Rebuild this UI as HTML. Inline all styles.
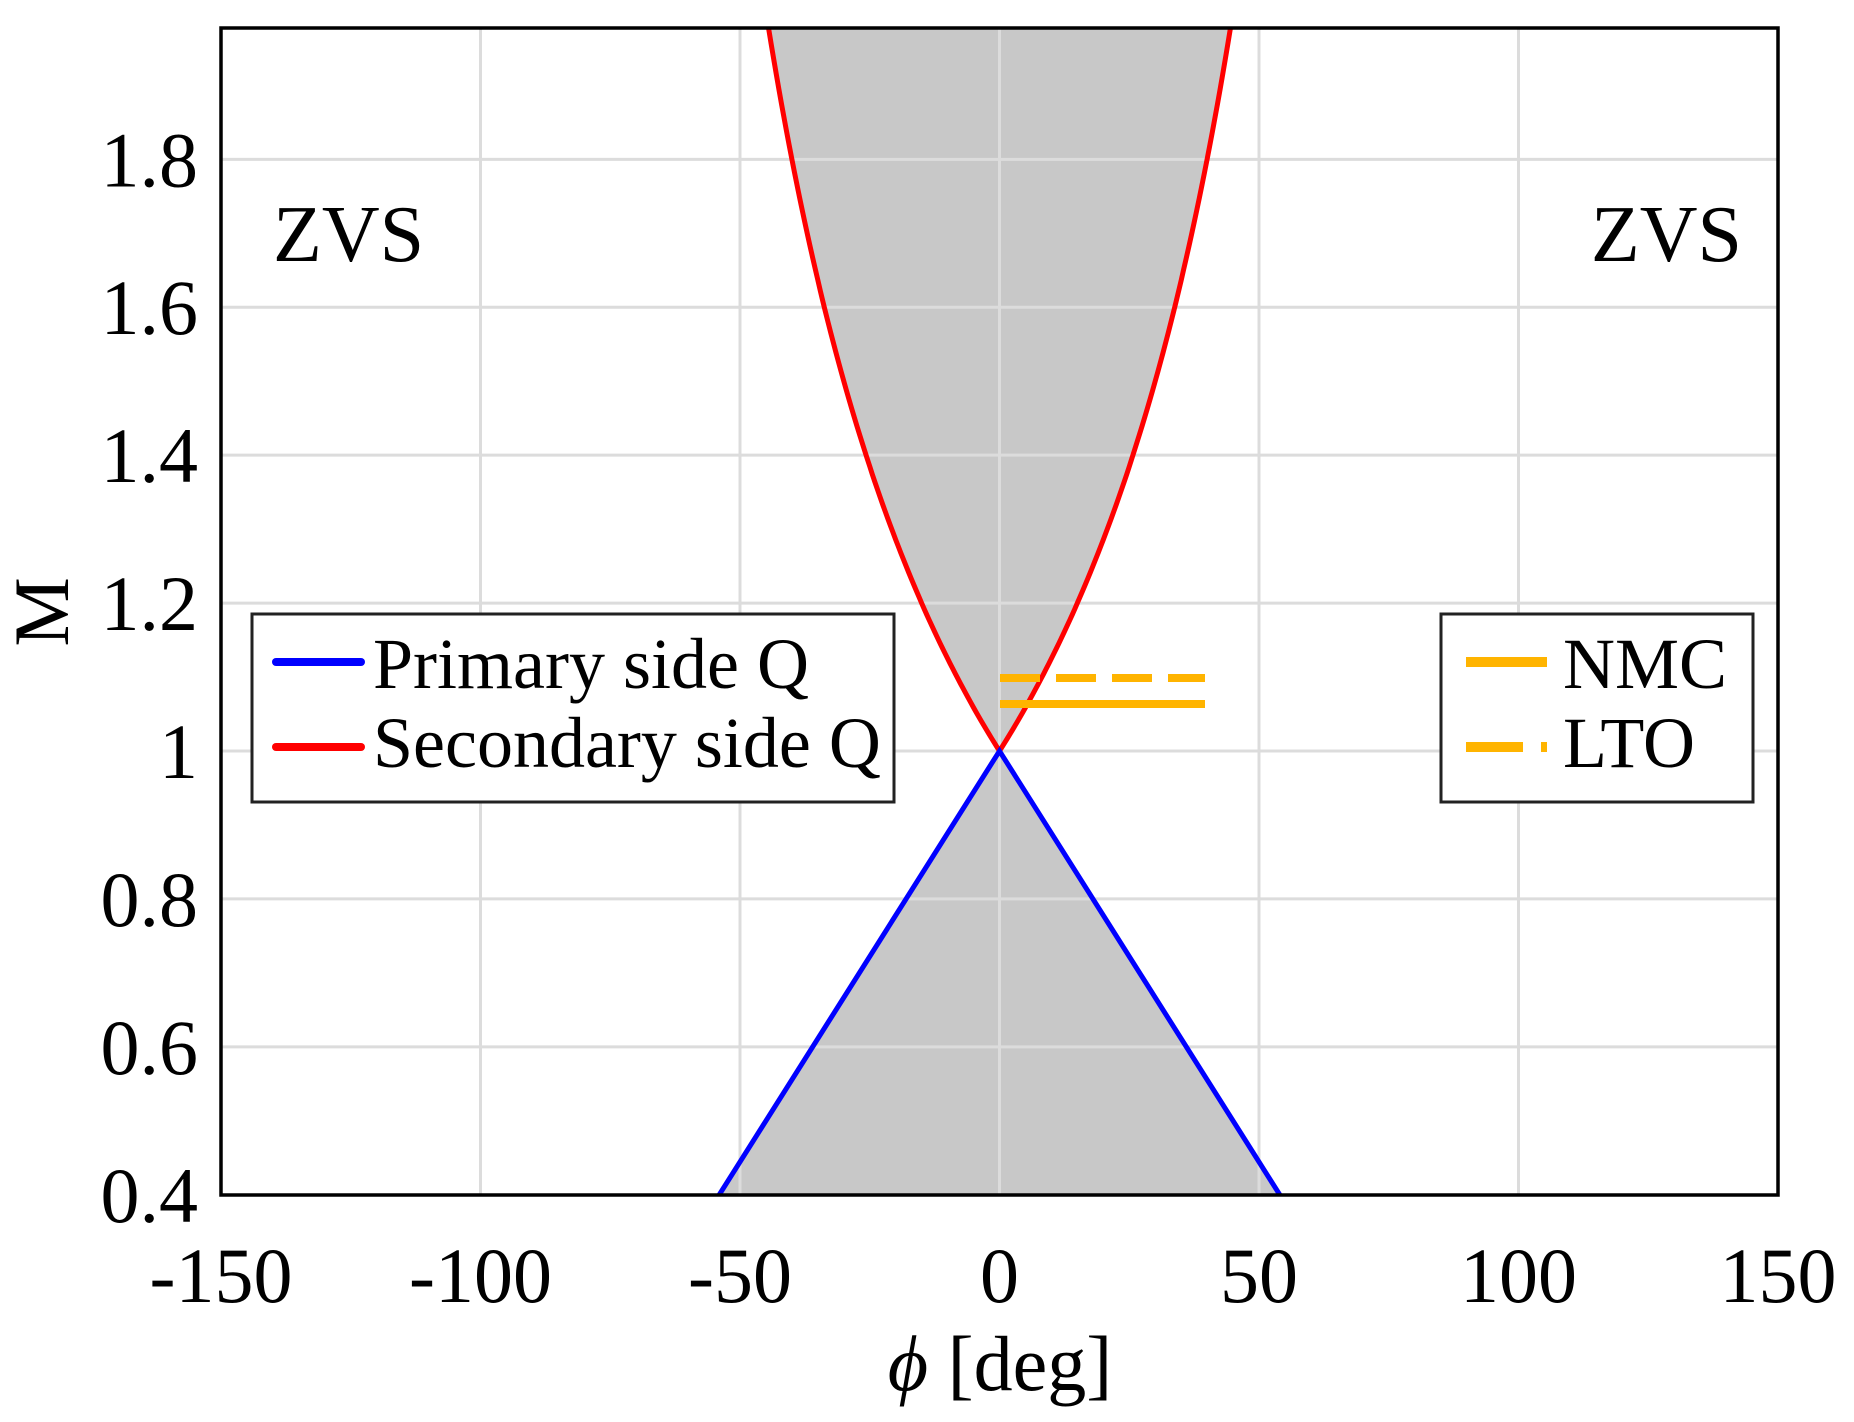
<!DOCTYPE html>
<html><head><meta charset="utf-8"><style>
html,body{margin:0;padding:0;background:#fff;}
svg{display:block;font-family:"Liberation Serif",serif;}
</style></head><body>
<svg id="s" width="1854" height="1422" xmlns="http://www.w3.org/2000/svg">
<defs><clipPath id="c"><rect x="221" y="28" width="1557" height="1167"/></clipPath></defs>
<rect x="0" y="0" width="1854" height="1422" fill="#fff"/>
<g id="fill" clip-path="url(#c)"></g>
<g id="grid" stroke="#dcdcdc" stroke-width="3"></g>
<g id="curves" clip-path="url(#c)" fill="none" stroke-width="5"></g>
<line x1="1000" y1="678" x2="1205" y2="678" stroke="#ffb400" stroke-width="8" stroke-dasharray="40,16"/>
<line x1="1000" y1="704" x2="1205" y2="704" stroke="#ffb400" stroke-width="8"/>
<rect x="221" y="28" width="1557" height="1167" fill="none" stroke="#000" stroke-width="3.5"/>
<g font-size="80" fill="#000">
<text x="273" y="261">ZVS</text>
<text x="1742" y="261" text-anchor="end">ZVS</text>
</g>
<g id="ticks" font-size="78" fill="#000"></g>
<text x="1000" y="1390" font-size="78" text-anchor="middle"><tspan font-style="italic">ϕ</tspan> [deg]</text>
<text transform="translate(68,612) rotate(-90)" font-size="78" text-anchor="middle">M</text>
<rect x="252" y="614" width="642" height="188" fill="#fff" stroke="#222" stroke-width="3"/>
<line x1="276" y1="662" x2="361" y2="662" stroke="#0000ff" stroke-width="8" stroke-linecap="round"/>
<line x1="276" y1="747" x2="361" y2="747" stroke="#ff0000" stroke-width="8" stroke-linecap="round"/>
<g font-size="72" fill="#000">
<text x="373" y="688">Primary side Q</text>
<text x="373" y="767">Secondary side Q</text>
</g>
<rect x="1441" y="614" width="312" height="188" fill="#fff" stroke="#222" stroke-width="3"/>
<line x1="1466" y1="662" x2="1547" y2="662" stroke="#ffb400" stroke-width="10"/>
<line x1="1466" y1="747" x2="1547" y2="747" stroke="#ffb400" stroke-width="10" stroke-dasharray="57,18"/>
<g font-size="72" fill="#000">
<text x="1563" y="688">NMC</text>
<text x="1563" y="767">LTO</text>
</g>
<script>
(function(){
var L=221,R=1778,T=28,B=1195;
function X(p){return L+(p+150)*(R-L)/300;}
function Y(m){return 751-(m-1)*739.6;}
var ns="http://www.w3.org/2000/svg";
function el(t,a,p){var e=document.createElementNS(ns,t);for(var k in a)e.setAttribute(k,a[k]);p.appendChild(e);return e;}
var g=document.getElementById('grid');
[-100,-50,0,50,100].forEach(function(p){el('line',{x1:X(p),y1:T,x2:X(p),y2:B},g);});
[0.6,0.8,1.0,1.2,1.4,1.6,1.8].forEach(function(m){el('line',{x1:L,y1:Y(m),x2:R,y2:Y(m)},g);});
var tk=document.getElementById('ticks');
[-150,-100,-50,0,50,100,150].forEach(function(p){var t=el('text',{x:X(p),y:1302,'text-anchor':'middle'},tk);t.textContent=String(p);});
[[0.4,'0.4'],[0.6,'0.6'],[0.8,'0.8'],[1.0,'1'],[1.2,'1.2'],[1.4,'1.4'],[1.6,'1.6'],[1.8,'1.8']].forEach(function(a){var t=el('text',{x:198,y:Y(a[0])+27,'text-anchor':'end'},tk);t.textContent=a[1];});
var red=[];
for(var p=-46;p<=46;p+=0.5){var m=1/(1-Math.abs(p)/90);red.push(X(p).toFixed(1)+','+Y(m).toFixed(1));}
var pts=[];
for(var p=-46;p<=0;p+=0.5){pts.push(X(p).toFixed(1)+','+Y(1/(1-Math.abs(p)/90)).toFixed(1));}
pts.push(X(-60)+','+Y(1-60/90));
pts.push(X(60)+','+Y(1-60/90));
for(var p=0;p<=46;p+=0.5){pts.push(X(p).toFixed(1)+','+Y(1/(1-Math.abs(p)/90)).toFixed(1));}
el('polygon',{points:pts.join(' '),fill:'#c8c8c8'},document.getElementById('fill'));
var c=document.getElementById('curves');
el('polyline',{points:red.join(' '),stroke:'#ff0000'},c);
el('polyline',{points:[X(-60)+','+Y(1-60/90),X(0)+','+Y(1),X(60)+','+Y(1-60/90)].join(' '),stroke:'#0000ff'},c);
})();
</script>
</svg>
</body></html>
